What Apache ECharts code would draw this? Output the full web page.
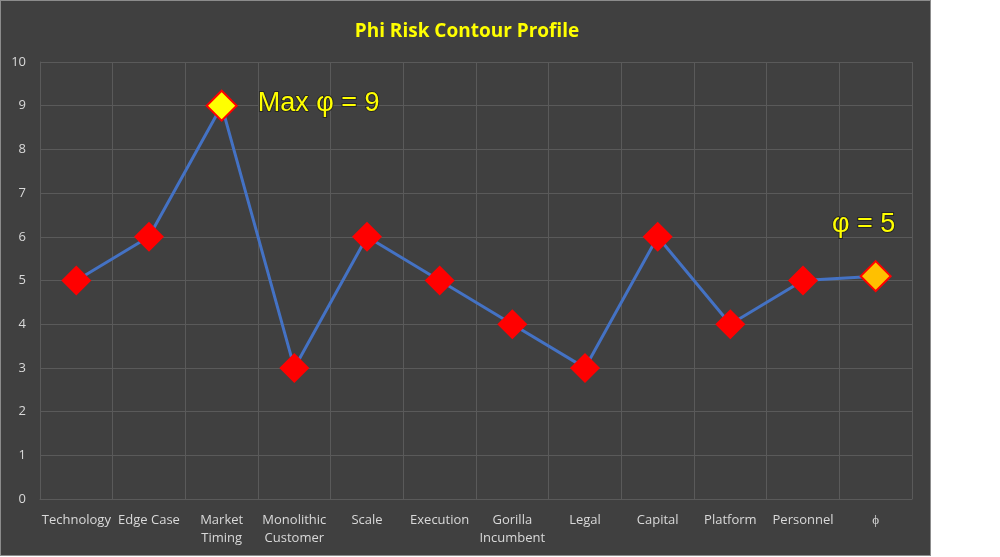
<!DOCTYPE html>
<html>
<head>
<meta charset="utf-8">
<script src="https://cdn.jsdelivr.net/npm/echarts@6/dist/echarts.min.js"></script>
<style>
  html, body { margin: 0; padding: 0; background: #fff; }
  #chart {
    position: absolute; left: 0; top: 0;
    width: 929px; height: 554px;
    border: 1px solid #8c8c8c;
    background: #404040;
  }
</style>
</head>
<body>
<div id="chart"></div>
<script>
// risk categories and their phi scores
const categories = ["Technology", "Edge Case", "Market\nTiming", "Monolithic\nCustomer", "Scale",
  "Execution", "Gorilla\nIncumbent", "Legal", "Capital", "Platform", "Personnel", "ϕ"];
const scores = [5, 6, 9, 3, 6, 5, 4, 3, 6, 4, 5, 5.1];
const maxIndex = 2;
const phiIndex = 11;
const maxLabel = "Max φ = 9";
const phiLabel = "φ = 5";
const yTicks = { min: 0, max: 10, interval: 1 };

var myChart = echarts.init(document.getElementById("chart"));

const seriesData = scores.map(function (v, i) {
  if (i === maxIndex) {
    return {
      value: v,
      itemStyle: { color: "#ffff00", borderColor: "#ff0000", borderWidth: 2 },
      label: { show: true, position: "right", distance: 20, offset: [0, -2], formatter: maxLabel }
    };
  }
  if (i === phiIndex) {
    return {
      value: v,
      itemStyle: { color: "#ffc000", borderColor: "#ff0000", borderWidth: 2 },
      label: { show: true, position: "top", distance: 22, offset: [-12, 0], formatter: phiLabel }
    };
  }
  return v;
});

var option = {
  backgroundColor: "#404040",
  title: {
    text: "Phi Risk Contour Profile",
    left: 461,
    textAlign: "center",
    top: 16,
    textStyle: { color: "#ffff00", fontSize: 19, fontWeight: "bold", fontFamily: "Open Sans" }
  },
  grid: { left: 39, top: 61, width: 872, height: 437 },
  xAxis: {
    type: "category",
    data: categories,
    boundaryGap: true,
    axisLine: { lineStyle: { color: "#5a5a5a" } },
    axisTick: { show: false },
    splitLine: { show: true, interval: 0, lineStyle: { color: "#5a5a5a", width: 1 } },
    axisLabel: { color: "#d9d9d9", fontSize: 13, interval: 0, margin: 12, lineHeight: 18, fontFamily: "Open Sans" }
  },
  yAxis: {
    type: "value",
    min: yTicks.min,
    max: yTicks.max,
    interval: yTicks.interval,
    axisLine: { show: true, lineStyle: { color: "#5a5a5a" } },
    splitLine: { lineStyle: { color: "#5a5a5a", width: 1 } },
    axisLabel: { color: "#d9d9d9", fontSize: 13, margin: 14, fontFamily: "Open Sans" }
  },
  series: [
    {
      type: "line",
      data: seriesData,
      symbol: "diamond",
      symbolSize: 30,
      lineStyle: { color: "#4472c4", width: 3 },
      itemStyle: { color: "#ff0000" },
      label: {
        color: "#ffff00",
        fontSize: 27,
        fontFamily: "Liberation Sans",
        textBorderColor: "#262626",
        textBorderWidth: 2
      },
      z: 3
    }
  ]
};

myChart.setOption(option);
</script>
</body>
</html>
